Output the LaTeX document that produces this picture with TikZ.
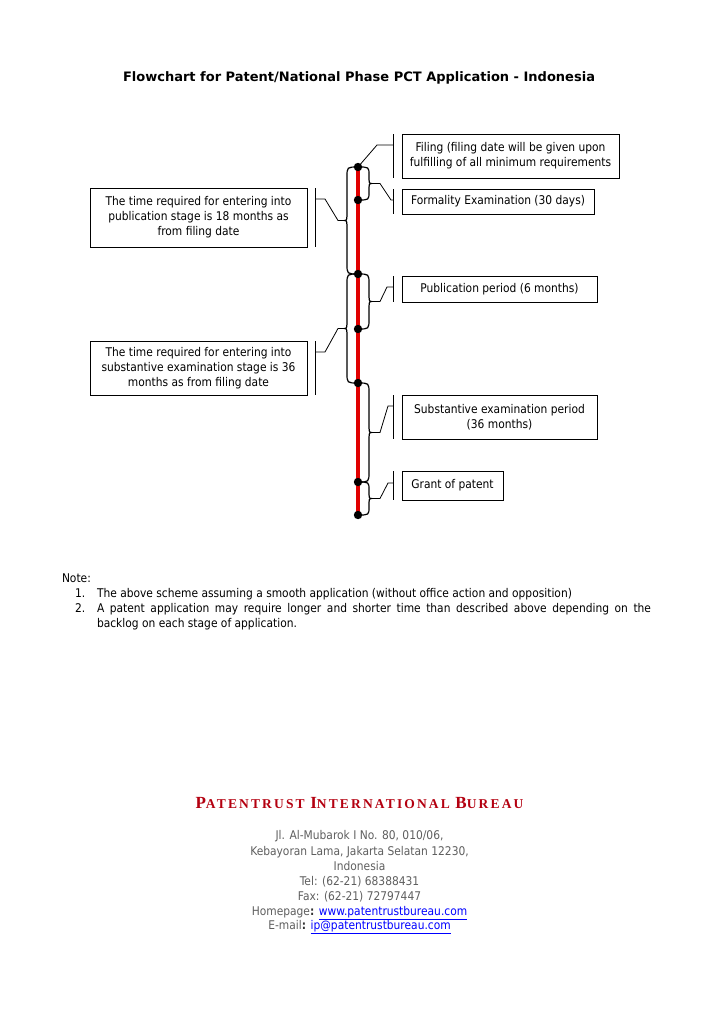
\documentclass[tikz,border=0pt]{standalone}
\usepackage{fontspec}
\setmainfont{DejaVu Sans}[FakeStretch=0.89]
\newfontfamily\titlefont{DejaVu Sans}
\newfontfamily\copper{Liberation Serif}[LetterSpace=16]
\usetikzlibrary{calc}
\definecolor{linered}{RGB}{225,0,0}
\definecolor{footred}{RGB}{180,0,16}
\definecolor{footgray}{RGB}{95,95,95}
\definecolor{linkblue}{RGB}{0,0,255}
\newcommand\tbrace[4]{%
  \draw[bracestyle] let \p1=(#1), \p2=(#2),
    \n1={0.5*(\y1+\y2)}, \n2={min(10,0.25*(\y1-\y2))},
    \n3={\x1+#3*11}, \n4={\x1+#3*14} in
    (\p1) .. controls ({\n3*1pt},\y1) .. ({\n3*1pt},{\y1-\n2*1pt})
    -- ({\n3*1pt},{\n1*1pt+\n2*1pt})
    .. controls ({\n3*1pt},{\n1*1pt}) .. ({\n4*1pt},{\n1*1pt}) coordinate (#4)
    .. controls ({\n3*1pt},{\n1*1pt}) .. ({\n3*1pt},{\n1*1pt-\n2*1pt})
    -- ({\n3*1pt},{\y2+\n2*1pt})
    .. controls ({\n3*1pt},\y2) .. (\p2);}
\begin{document}
\begin{tikzpicture}[x=1pt,y=-1pt,
  every node/.style={inner sep=0pt, outer sep=0pt, font=\fontsize{12}{15}\selectfont},
  box/.style={draw, line width=0.8pt, align=center},
  bracestyle/.style={line width=1.2pt, black},
  leader/.style={line width=0.8pt, black},
  accent/.style={line width=0.8pt, black},
  footline/.style={anchor=base, text=footgray}]
\fill[white] (0,0) rectangle (719,1017);
\useasboundingbox (0,0) rectangle (719,1017);

\node[anchor=base] (title) at (359,81) {\titlefont\bfseries\fontsize{13}{15}\selectfont Flowchart for Patent/National Phase PCT Application - Indonesia};

% boxes
\node[box, minimum width=217pt, minimum height=44pt] (filing) at (510.5,156) {Filing (filing date will be given upon\\fulfilling of all minimum requirements};
\node[box, minimum width=192pt, minimum height=25pt] (formal) at (498,201.5) {Formality Examination (30 days)};
\node[box, minimum width=217pt, minimum height=59pt] (left1) at (198.5,217.5) {The time required for entering into\\publication stage is 18 months as\\from filing date};
\node[box, minimum width=195pt, minimum height=26pt] (pub) at (499.5,289) {Publication period (6 months)};
\node[box, minimum width=217pt, minimum height=54pt] (left2) at (198.5,368) {The time required for entering into\\substantive examination stage is 36\\months as from filing date};
\node[box, minimum width=195pt, minimum height=44pt] (subst) at (499.5,417) {Substantive examination period\\(36 months)};
\node[box, minimum width=101pt, minimum height=29pt] (grant) at (452.5,485.5) {Grant of patent};

% accent bars
\foreach \b in {filing,formal,pub,subst,grant}
  \draw[accent] ([xshift=-9pt]\b.north west) -- ([xshift=-9pt]\b.south west);
\foreach \b in {left1,left2}
  \draw[accent] ([xshift=8pt]\b.north east) -- ([xshift=8pt]\b.south east);

% timeline points
\coordinate (d1) at (358,167);
\coordinate (d2) at (358,200);
\coordinate (d3) at (358,274);
\coordinate (d4) at (358,329);
\coordinate (d5) at (358,383);
\coordinate (d6) at (358,482);
\coordinate (d7) at (358,515);

\draw[line width=3.2pt, linered] (d1) -- (d7);

% braces
\tbrace{d1}{d2}{1}{tipB}
\tbrace{d1}{d3}{-1}{tipL1}
\tbrace{d3}{d4}{1}{tipP}
\tbrace{d3}{d5}{-1}{tipL2}
\tbrace{d5}{d6}{1}{tipS}
\tbrace{d6}{d7}{1}{tipG}

% leader end points on accent bars
\coordinate (barF) at (393,145);
\coordinate (barB) at (393,200);
\coordinate (barL1) at (315,199);
\coordinate (barP) at (393,287);
\coordinate (barL2) at (315,352);
\coordinate (barS) at (393,406);
\coordinate (barG) at (393,483);

\draw[leader] (d1) -- ([xshift=-16pt]barF) -- (barF);
\draw[leader] (tipB) -- ++(8pt,0) -- ([xshift=-2pt]barB) -- (barB);
\draw[leader] (tipL1) -- ++(-6pt,0) -- ([xshift=10pt]barL1) -- (barL1);
\draw[leader] (tipP) -- ++(8pt,0) -- ([xshift=-6pt]barP) -- (barP);
\draw[leader] (tipL2) -- ++(-6pt,0) -- ([xshift=10pt]barL2) -- (barL2);
\draw[leader] (tipS) -- ++(8pt,0) -- ([xshift=-5pt]barS) -- (barS);
\draw[leader] (tipG) -- ++(8pt,0) -- ([xshift=-5pt]barG) -- (barG);

\foreach \d in {d1,d2,d3,d4,d5,d6,d7}
  \fill (\d) circle (4.2pt);

% notes
\node[anchor=base west] (note) at (62,582) {Note:};
\node[anchor=base west] (n1) at (75,597) {1.};
\node[anchor=base west] (t1) at (97,597) {The above scheme assuming a smooth application (without office action and opposition)};
\node[anchor=base west] (n2) at (75,612) {2.};
\node[anchor=base west] (t2) at (97,612) {\makebox[554pt][s]{A patent application may require longer and shorter time than described above depending on the}};
\node[anchor=base west] (t3) at (97,627) {backlog on each stage of application.};

% footer
\node[anchor=base, text=footred] (firm) at (359.5,808) {\copper\bfseries
  \fontsize{17}{17}\selectfont P\fontsize{13.5}{17}\selectfont ATENTRUST
  \fontsize{17}{17}\selectfont I\fontsize{13.5}{17}\selectfont NTERNATIONAL
  \fontsize{17}{17}\selectfont B\fontsize{13.5}{17}\selectfont UREAU};
\node[footline] (a1) at (359.5,839) {Jl. Al-Mubarok I No. 80, 010/06,};
\node[footline] (a2) at (359.5,855) {Kebayoran Lama, Jakarta Selatan 12230,};
\node[footline] (a3) at (359.5,870) {Indonesia};
\node[footline] (a4) at (359.5,885) {Tel: (62-21) 68388431};
\node[footline] (a5) at (359.5,900) {Fax: (62-21) 72797447};
\node[footline] (a6) at (359.5,915) {Homepage{\color{black!80}\bfseries :} \textcolor{linkblue}{\underline{www.patentrustbureau.com}}};
\node[footline] (a7) at (359.5,929) {E-mail{\color{black!80}\bfseries :} \textcolor{linkblue}{\underline{ip@patentrustbureau.com}}};
\end{tikzpicture}
\end{document}
